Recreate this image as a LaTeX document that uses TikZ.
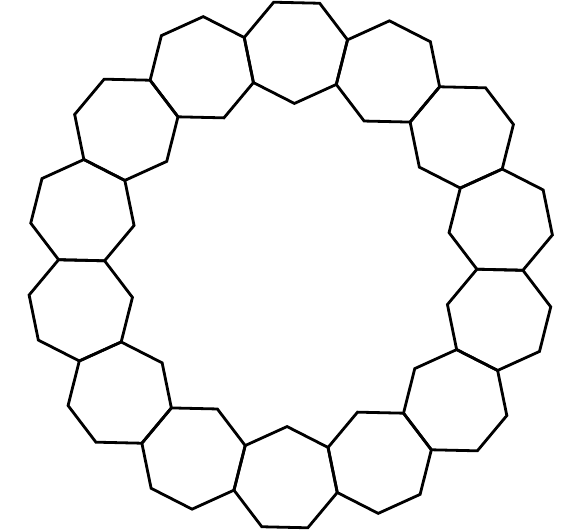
\documentclass[tikz,border=0pt]{standalone}
\usepackage{tikz}
\usetikzlibrary{calc}

\begin{document}
\begin{tikzpicture}[x=1pt, y=1pt, hept/.style={line width=2.8pt, line join=miter}]
    \useasboundingbox (-290.75,-266) rectangle (285.25,265);
    % ring of fourteen heptagons, each sharing an edge with its neighbours
    \foreach \k in {0,...,13}{
        \pgfmathsetmacro{\ang}{88.7+360/14*\k}
        \coordinate (c\k) at (\ang:214.6);
        \draw[hept] ($(c\k)+(\ang+180:53)$)
            \foreach \j in {1,...,6}{ -- ($(c\k)+(\ang+180+360/7*\j:53)$) } -- cycle;
    }
\end{tikzpicture}
\end{document}
